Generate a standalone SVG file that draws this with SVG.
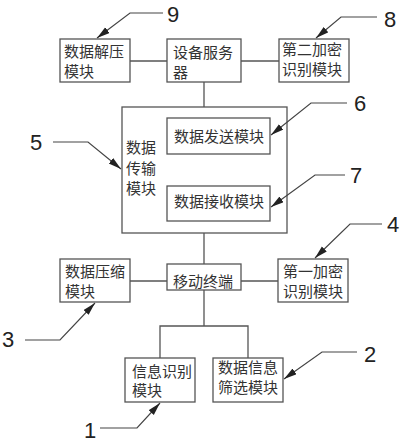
<svg xmlns="http://www.w3.org/2000/svg" width="409" height="443" viewBox="0 0 409 443">
<style>
.box{fill:#fff;stroke:#555;stroke-width:1.3}
.t{font-family:"Noto Sans CJK SC","Liberation Sans",sans-serif;font-size:15px;fill:#333}
.n{font-family:"Liberation Sans",Arial,sans-serif;font-size:22px;fill:#222}
.c{fill:none;stroke:#555;stroke-width:1.3}
.l{fill:none;stroke:#444;stroke-width:1.2;marker-end:url(#ah)}
</style>
<defs>
<marker id="ah" markerUnits="userSpaceOnUse" markerWidth="14" markerHeight="8" refX="13" refY="3.5" orient="auto">
<path d="M0,0 L13,3.5 L0,7 Z" fill="#222"/>
</marker>
</defs>
<rect width="409" height="443" fill="#fff"/>
<g id="connectors">
<path class="c" d="M130,61 H167 M241,61 H279 M204,82 V107 M204,233 V264 M130,281 H167 M241,281 H278 M204,290 V326 M160,358 V326 H248 V358"/>
</g>
<g id="decompress">
<rect class="box" x="60" y="39" width="70" height="43"/>
<text class="t" x="64" y="57">数据解压</text>
<text class="t" x="64" y="77">模块</text>
</g>
<g id="server">
<rect class="box" x="167" y="39" width="74" height="43"/>
<text class="t" x="173" y="58">设备服务</text>
<text class="t" x="173" y="78">器</text>
</g>
<g id="encrypt2">
<rect class="box" x="279" y="39" width="70" height="43"/>
<text class="t" x="282" y="55">第二加密</text>
<text class="t" x="282" y="75">识别模块</text>
</g>
<g id="transfer">
<rect class="box" x="122" y="107" width="165" height="126"/>
<text class="t" x="126" y="153">数据</text>
<text class="t" x="126" y="174">传输</text>
<text class="t" x="126" y="194">模块</text>
</g>
<g id="send">
<rect class="box" x="167" y="118" width="103" height="36"/>
<text class="t" x="174" y="142">数据发送模块</text>
</g>
<g id="receive">
<rect class="box" x="167" y="186" width="103" height="35"/>
<text class="t" x="174" y="207">数据接收模块</text>
</g>
<g id="compress">
<rect class="box" x="60" y="259" width="70" height="43"/>
<text class="t" x="65" y="277">数据压缩</text>
<text class="t" x="65" y="297">模块</text>
</g>
<g id="mobile">
<rect class="box" x="167" y="264" width="74" height="26"/>
<text class="t" x="173" y="287">移动终端</text>
</g>
<g id="encrypt1">
<rect class="box" x="278" y="259" width="70" height="43"/>
<text class="t" x="283" y="277">第一加密</text>
<text class="t" x="283" y="297">识别模块</text>
</g>
<g id="identify">
<rect class="box" x="125" y="358" width="70" height="44"/>
<text class="t" x="132" y="377">信息识别</text>
<text class="t" x="132" y="396">模块</text>
</g>
<g id="filter">
<rect class="box" x="213" y="358" width="70" height="44"/>
<text class="t" x="218" y="373">数据信息</text>
<text class="t" x="218" y="393">筛选模块</text>
</g>
<g id="leaders">
<path class="l" d="M163,13 H130 L97,38"/>
<path class="l" d="M377,17 H341 L316,38"/>
<path class="l" d="M347,103 H311 L271,135"/>
<path class="l" d="M345,175 H315 L271,207"/>
<path class="l" d="M53,142 H88 L121,169"/>
<path class="l" d="M382,224 H350 L315,258"/>
<path class="l" d="M25,340 H60 L95,303"/>
<path class="l" d="M357,352 H322 L284,379"/>
<path class="l" d="M100,428 H137 L160,403"/>
</g>
<g id="numbers">
<text class="n" x="167" y="22">9</text>
<text class="n" x="384" y="27">8</text>
<text class="n" x="354" y="111">6</text>
<text class="n" x="350" y="183">7</text>
<text class="n" x="30" y="150">5</text>
<text class="n" x="387" y="232">4</text>
<text class="n" x="2" y="347">3</text>
<text class="n" x="364" y="362">2</text>
<text class="n" x="84" y="438">1</text>
</g>
</svg>
